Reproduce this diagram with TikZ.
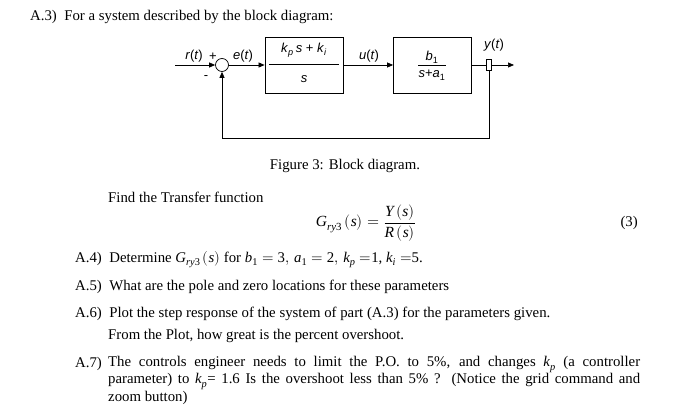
\documentclass[tikz,border=0pt]{standalone}
\usepackage{fontspec}
\setmainfont{Liberation Serif}
\newfontfamily\dsans{Liberation Sans}
\usepackage{unicode-math}
\setmathfont{Latin Modern Math}
\setmathfont[range=it]{Liberation Serif Italic}
\setmathfont[range=up]{Liberation Serif}
\usetikzlibrary{arrows.meta}
\begin{document}
\begin{tikzpicture}[x=1pt,y=-1pt,
  txt/.style={anchor=base west,inner sep=0,font=\fontsize{14.8}{18}\selectfont},
  blk/.style={draw,line width=0.8pt,minimum width=78pt,minimum height=56pt,inner sep=0},
  lbl/.style={font=\dsans\fontsize{13}{15}\selectfont,inner sep=0},
  sig/.style={line width=0.7pt,-{Triangle[length=6pt,width=5pt]}},
  line/.style={line width=0.7pt}]
\useasboundingbox (0,0) rectangle (700,411);
\node[txt] (t1) at (30,21) {A.3)\ \ For a system described by the block diagram:};
% diagram
\node[draw,circle,line width=0.7pt,minimum size=13pt,inner sep=0] (sum) at (222,65) {};
\node[blk] (b1) at (304,65) {};
\node[blk] (b2) at (432.5,65) {};
\node[draw,line width=0.7pt,minimum width=5pt,minimum height=11pt,inner sep=0] (po) at (489,65) {};
\coordinate (in) at (175,65);
\coordinate (out) at (514,65);
\coordinate (fb1) at (489,138);
\coordinate (fb2) at (222,138);
\draw[sig] (in) -- (sum);
\draw[sig] (sum) -- (b1);
\draw[sig] (b1) -- (b2);
\draw[line] (b2) -- (po);
\draw[sig] (po) -- (out);
\draw[sig] (po.south) -- (fb1) -- (fb2) -- (sum);
\node[lbl] (lr) at (194,56) {\textit{r}(\textit{t})};
\node[lbl] (lp) at (213,57) {+};
\node[lbl] (lm) at (206,78) {-};
\node[lbl] (le) at (243,56) {\textit{e}(\textit{t})};
\node[lbl] (lu) at (369,56) {\textit{u}(\textit{t})};
\node[lbl] (ly) at (494,45) {\textit{y}(\textit{t})};
\node[lbl] (n1) at (304,50) {\textit{k}\textsubscript{\textit{p}}\,\textit{s} + \textit{k}\textsubscript{\textit{i}}};
\draw[line width=0.5pt] (269,64) -- (339,64);
\node[lbl] (d1) at (304,79) {\textit{s}};
\node[lbl] (n2) at (432,57) {\textit{b}\textsubscript{1}};
\draw[line width=0.5pt] (418,65) -- (446,65);
\node[lbl] (d2) at (432,75) {\textit{s}+\textit{a}\textsubscript{1}};
\node[anchor=base,inner sep=0,font=\fontsize{14.8}{18}\selectfont] (cap) at (345,170) {Figure 3: Block diagram.};
\node[txt] (f) at (108,203) {Find the Transfer function};
\node[anchor=center,inner sep=0,font=\fontsize{15.5}{18}\selectfont] (eq) at (366,223) {$G_{ry3}\,(s)=\dfrac{Y\,(s)}{R\,(s)}$};
\node[anchor=base east,inner sep=0,font=\fontsize{14.8}{18}\selectfont] (en) at (638,227) {(3)};
\node[txt] (a4) at (75,262) {A.4)\ \ Determine $G_{ry3}\,(s)$ for $b_1=3,\,a_1=2,\,k_p=$1, $k_i=$5.};
\node[txt] (a5) at (75,290) {A.5)\ \ What are the pole and zero locations for these parameters};
\node[txt] (a6) at (75,317) {A.6)\ \ Plot the step response of the system of part (A.3) for the parameters given.};
\node[txt] (a6b) at (108,339) {From the Plot, how great is the percent overshoot.};
\node[txt] (a7) at (75,367) {A.7)};
\node[anchor=north west,inner sep=0,text width=532pt,align=justify,font=\fontsize{14.8}{17.5}\selectfont] (a7t) at (108,356) {The controls engineer needs to limit the P.O. to 5\%, and changes $k_p$ (a controller\linebreak parameter) to $k_p$= 1.6 Is the overshoot less than 5\% ? (Notice the grid command and\linebreak zoom button)};
\end{tikzpicture}
\end{document}
